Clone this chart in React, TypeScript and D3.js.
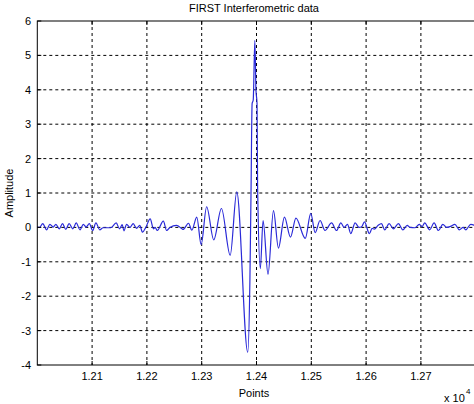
import React from "react";
import * as d3 from "d3";

const sampleIndex: number[] = [
  12000, 12004, 12010, 12017, 12023, 12029, 12034, 12040, 12046, 12052, 12058, 12065, 12071, 12078,
  12084, 12089, 12095, 12101, 12107, 12114, 12120, 12127, 12134, 12144, 12150, 12155, 12158, 12163,
  12169, 12175, 12181, 12187, 12192, 12198, 12206, 12212, 12215, 12219, 12230, 12236, 12242, 12254,
  12264, 12266, 12276, 12282, 12291, 12299, 12309, 12322, 12336, 12352, 12364, 12384, 12388, 12390,
  12392, 12394, 12397, 12399, 12401, 12402, 12407, 12412, 12421, 12431, 12440, 12451, 12462, 12472,
  12489, 12499, 12507, 12516, 12525, 12537, 12546, 12554, 12560, 12566, 12572, 12580, 12587, 12592,
  12597, 12606, 12611, 12615, 12622, 12628, 12634, 12642, 12650, 12659, 12667, 12675, 12680, 12689,
  12697, 12702, 12707, 12716, 12724, 12732, 12740, 12747, 12754, 12762, 12770, 12777, 12782, 12791,
  12797, 12800,
];

const amplitude: number[] = [
  0.02, 0.0, 0.11, -0.07, 0.09, 0.01, 0.09, -0.04, 0.11, -0.06, 0.11, -0.04, 0.13, -0.07,
  0.09, 0.01, 0.11, -0.09, 0.13, -0.07, -0.01, -0.01, -0.01, 0.13, -0.04, 0.08, -0.1, 0.09,
  0.0, 0.11, -0.03, 0.06, -0.14, 0.0, 0.25, -0.04, 0.0, -0.09, 0.18, -0.09, 0.0, 0.06,
  -0.04, -0.06, 0.12, -0.08, 0.3, -0.5, 0.6, -0.36, 0.55, -0.81, 1.03, -3.63, -1.5, 1.0,
  3.6, 3.7, 5.44, 4.0, 3.6, 1.2, -1.2, 0.2, -1.36, 0.49, -0.6, 0.3, -0.28, 0.27,
  -0.32, 0.41, -0.15, 0.2, -0.09, 0.13, -0.09, 0.13, 0.0, 0.09, -0.18, 0.13, 0.0, 0.02,
  0.16, -0.18, -0.03, -0.05, 0.06, 0.11, -0.07, 0.11, -0.04, 0.11, -0.07, 0.06, 0.0, -0.01,
  0.09, 0.02, 0.13, -0.07, 0.13, -0.09, 0.09, 0.0, 0.03, 0.09, -0.07, 0.0, -0.07, 0.09,
  0.06, 0.02,
];

const xTicks: number[] = [12100, 12200, 12300, 12400, 12500, 12600, 12700];
const yTicks: number[] = [-4, -3, -2, -1, 0, 1, 2, 3, 4, 5, 6];

const title = "FIRST Interferometric data";
const xLabel = "Points";
const yLabel = "Amplitude";

export default function App() {
  const W = 474;
  const H = 404;
  const left = 37.3;
  const right = 475.7;
  const top = 21;
  const bottom = 365;
  const x = d3.scaleLinear().domain([12000, 12800]).range([left, right]);
  const y = d3.scaleLinear().domain([-4, 6]).range([bottom, top]);
  const data = sampleIndex.map((s, i) => [s, amplitude[i]] as [number, number]);
  const line = d3
    .line<[number, number]>()
    .x((d) => x(d[0]))
    .y((d) => y(d[1]))
    .curve(d3.curveMonotoneX);
  const font = "'Liberation Sans', Arial, sans-serif";

  return (
    <svg
      width={W}
      height={H}
      style={{ position: "absolute", left: 0, top: 0, background: "#fff" }}
      fontFamily={font}
    >
      <rect x={0} y={0} width={W} height={H} fill="#fff" />
      {/* grid */}
      {xTicks.map((t) => (
        <line key={"gx" + t} x1={x(t)} x2={x(t)} y1={top} y2={bottom} stroke="#000" strokeWidth={1} strokeDasharray="3,3" />
      ))}
      {yTicks.slice(1, -1).map((t) => (
        <line key={"gy" + t} x1={left} x2={right} y1={y(t)} y2={y(t)} stroke="#000" strokeWidth={1} strokeDasharray="3,3" />
      ))}
      {/* data */}
      <path d={line(data) || ""} fill="none" stroke="#2a2ad8" strokeWidth={1.2} />
      {/* axes box */}
      <rect x={left} y={top} width={right - left} height={bottom - top} fill="none" stroke="#000" strokeWidth={1} />
      {/* tick marks */}
      {xTicks.map((t) => (
        <g key={"tx" + t}>
          <line x1={x(t)} x2={x(t)} y1={bottom} y2={bottom - 4} stroke="#000" />
          <line x1={x(t)} x2={x(t)} y1={top} y2={top + 4} stroke="#000" />
          <text x={x(t)} y={380} fontSize={11} textAnchor="middle" fill="#000">
            {(t / 10000).toFixed(2)}
          </text>
        </g>
      ))}
      {yTicks.map((t) => (
        <g key={"ty" + t}>
          <line x1={left} x2={left + 4} y1={y(t)} y2={y(t)} stroke="#000" />
          <text x={31} y={y(t) + 4} fontSize={11} textAnchor="end" fill="#000">
            {t}
          </text>
        </g>
      ))}
      <text x={254} y={12} fontSize={11} textAnchor="middle" fill="#000">
        {title}
      </text>
      <text x={254} y={397} fontSize={11} textAnchor="middle" fill="#000">
        {xLabel}
      </text>
      <text transform={`translate(13,${(top + bottom) / 2}) rotate(-90)`} fontSize={11} textAnchor="middle" fill="#000">
        {yLabel}
      </text>
      <text x={444} y={402} fontSize={11} fill="#000">
        x 10
      </text>
      <text x={466} y={394} fontSize={8} fill="#000">
        4
      </text>
    </svg>
  );
}
